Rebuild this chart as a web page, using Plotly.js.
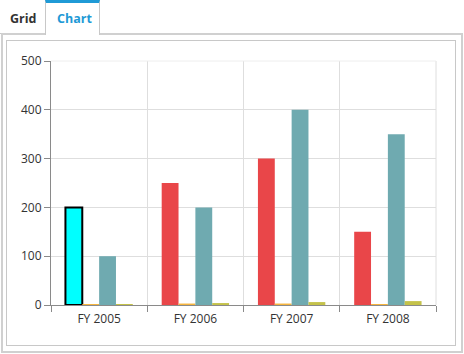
<!DOCTYPE html>
<html>
<head>
<meta charset="utf-8">
<script src="https://cdn.plot.ly/plotly-3.0.1.min.js"></script>
<style>
  html, body { margin: 0; padding: 0; background: #ffffff; }
  body { width: 464px; height: 354px; position: relative; overflow: hidden; font-family: "Open Sans", "Noto Sans", sans-serif; }
  .abs { position: absolute; box-sizing: border-box; }
  #chart { position: absolute; left: 0; top: 0; width: 464px; height: 354px; }
</style>
</head>
<body>
<!-- tab strip -->
<div class="abs" style="left:0;top:33px;width:46px;height:1px;background:#c8c8c8;"></div>
<div class="abs" style="left:10px;top:10px;font-size:12.5px;font-weight:bold;color:#333;">Grid</div>
<div class="abs" style="left:45px;top:0;width:55px;height:35px;border-left:1px solid #c8c8c8;border-right:1px solid #c8c8c8;border-top:3px solid #1f9ad6;background:#fff;z-index:2;"></div>
<div class="abs" style="left:57px;top:10px;font-size:12.5px;font-weight:bold;color:#1f9ad6;z-index:3;">Chart</div>
<!-- outer panel -->
<div class="abs" style="left:1px;top:33px;width:462px;height:320px;border:2px solid #d0d0d0;"></div>
<!-- inner box -->
<div class="abs" style="left:6px;top:40px;width:450px;height:306px;border:1.5px solid #c8c8c8;"></div>
<div id="chart"></div>
<script>
const categories = ['FY 2005', 'FY 2006', 'FY 2007', 'FY 2008'];
const series1 = [200, 250, 300, 150];
const series2 = [2, 3, 3, 2];
const series3 = [100, 200, 400, 350];
const series4 = [2, 4, 6, 8];
const yTickValues = [0, 100, 200, 300, 400, 500];

const red = '#E94649', orange = '#F6B53F', teal = '#6FAAB0', olive = '#C4C24A';

const traces = [
  { type: 'bar', x: categories, y: series1, name: 'Series 1',
    marker: { color: ['#00FFFF', red, red, red],
              line: { color: ['#000000', red, red, red], width: [2, 0, 0, 0] } } },
  { type: 'bar', x: categories, y: series2, name: 'Series 2', marker: { color: orange, line: { width: 0 } } },
  { type: 'bar', x: categories, y: series3, name: 'Series 3', marker: { color: teal, line: { width: 0 } } },
  { type: 'bar', x: categories, y: series4, name: 'Series 4', marker: { color: olive, line: { width: 0 } } }
];

const layout = {
  width: 464, height: 354,
  margin: { l: 51, r: 28, t: 61, b: 49, pad: 0 },
  paper_bgcolor: 'rgba(0,0,0,0)',
  plot_bgcolor: 'rgba(0,0,0,0)',
  showlegend: false,
  barmode: 'group',
  bargap: 0.3,
  bargroupgap: 0,
  font: { family: '"Open Sans", "Noto Sans", sans-serif', size: 12, color: '#333' },
  xaxis: {
    type: 'category',
    tickson: 'boundaries',
    ticks: 'outside', ticklen: 6, tickcolor: '#8a8a8a', tickwidth: 1,
    ticklabelstandoff: 3,
    showline: true, linecolor: '#8a8a8a', linewidth: 1,
    showgrid: true, gridcolor: '#dedede', gridwidth: 1,
    mirror: false,
    tickfont: { size: 12, color: '#333' },
    fixedrange: true
  },
  yaxis: {
    range: [0, 500],
    tickvals: yTickValues,
    ticks: 'outside', ticklen: 6, tickcolor: '#8a8a8a',
    showline: true, linecolor: '#8a8a8a', linewidth: 1,
    showgrid: true, gridcolor: '#dedede', gridwidth: 1,
    zeroline: false,
    tickfont: { size: 12, color: '#333' },
    fixedrange: true
  },
  shapes: [
    { type: 'line', xref: 'paper', yref: 'paper', x0: 1, x1: 1, y0: 0, y1: 1, line: { color: '#dedede', width: 1 } },
    { type: 'line', xref: 'paper', yref: 'paper', x0: 0, x1: 1, y0: 1, y1: 1, line: { color: '#eeeeee', width: 1 } }
  ]
};

Plotly.newPlot('chart', traces, layout, { displayModeBar: false, staticPlot: true });
</script>
</body>
</html>
